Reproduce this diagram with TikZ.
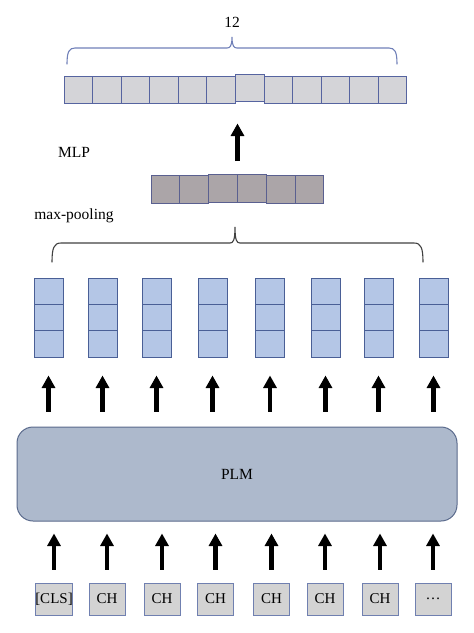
\documentclass[tikz,border=0pt]{standalone}
\usepackage{fontspec}
\setmainfont{Liberation Serif}
\usetikzlibrary{arrows.meta}
\definecolor{topfill}{HTML}{D4D4D8}
\definecolor{topdraw}{HTML}{5664A0}
\definecolor{midfill}{HTML}{ABA5A8}
\definecolor{middraw}{HTML}{5A6090}
\definecolor{colfill}{HTML}{B4C6E6}
\definecolor{coldraw}{HTML}{4A5F96}
\definecolor{plmfill}{HTML}{ADB9CC}
\definecolor{plmdraw}{HTML}{5A6A8C}
\definecolor{tokfill}{HTML}{D3D3D3}
\definecolor{tokdraw}{HTML}{7080B0}
\definecolor{bracetop}{HTML}{7080B8}
\definecolor{bracemid}{HTML}{404040}
\tikzset{
  topcell/.style={draw=topdraw, fill=topfill, line width=1pt, minimum width=28.58pt, minimum height=27pt, inner sep=0pt},
  midcell/.style={draw=middraw, fill=midfill, line width=1pt, minimum width=28.83pt, minimum height=28pt, inner sep=0pt},
  colcell/.style={draw=coldraw, fill=colfill, line width=1pt, minimum width=29pt, minimum height=26.33pt, inner sep=0pt},
  tokbox/.style={draw=tokdraw, fill=tokfill, line width=1pt, minimum width=36pt, minimum height=32pt, inner sep=0pt, font=\fontsize{15}{17}\selectfont},
  plmbox/.style={draw=plmdraw, fill=plmfill, line width=1pt, rounded corners=16pt, minimum width=440pt, minimum height=94pt, inner sep=0pt, font=\fontsize{15.5}{17}\selectfont},
  lbl/.style={font=\fontsize{15.5}{17}\selectfont, inner sep=0pt},
  bigarrow/.style={line width=4.6pt, -{Triangle[width=13pt,length=12.5pt]}},
  bracepath/.style={line width=1.1pt, line cap=round}
}
\begin{document}
\begin{tikzpicture}[x=1pt,y=-1pt]
\useasboundingbox (0,0) rectangle (474,633);
% top row of 12
\foreach \i in {0,...,11}{
  \pgfmathsetmacro{\cx}{64+28.58*(\i+0.5)}
  \ifnum\i=6
    \node[topcell] (t\i) at (\cx,88) {};
  \else
    \node[topcell] (t\i) at (\cx,89.5) {};
  \fi
}
% middle row of 6
\foreach \i in {0,...,5}{
  \pgfmathsetmacro{\cx}{151+28.83*(\i+0.5)}
  \ifnum\i=2
    \node[midcell] (m\i) at (\cx,188.5) {};
  \else\ifnum\i=3
    \node[midcell] (m\i) at (\cx,188.5) {};
  \else
    \node[midcell] (m\i) at (\cx,189.5) {};
  \fi\fi
}
\coordinate (mc) at (237.5,189);
% columns
\foreach \x [count=\k] in {48.5,102.5,156.5,212.5,270,325.5,378.5,433.5}{
  \node[colcell] (c\k a) at (\x,291.17) {};
  \node[colcell] (c\k b) at (\x,317.5) {};
  \node[colcell] (c\k c) at (\x,343.83) {};
}
% PLM
\node[plmbox] (plm) at (237,474) {PLM};
% tokens
\foreach \x/\t [count=\k] in {54/[CLS],107/CH,162/CH,215.5/CH,271.5/CH,325/CH,380/CH,433/\dots}{
  \node[tokbox] (tok\k) at (\x,599) {\t};
}
% arrows tokens -> PLM
\foreach \k in {1,...,8}{
  \draw[bigarrow, shorten <=13pt, shorten >=12pt] (tok\k.north) -- (tok\k.north |- plm.south);
}
% arrows PLM -> columns
\foreach \k in {1,...,8}{
  \draw[bigarrow, shorten <=15pt, shorten >=18pt] (c\k c.south |- plm.north) -- (c\k c.south);
}
% MLP arrow
\draw[bigarrow, shorten <=14pt, shorten >=20pt] (mc |- m0.north) -- (mc |- t0.south);
% labels
\node[lbl] (n12) at (232,22) {12};
\node[lbl] (mlp) at (74,152) {MLP};
\node[lbl] (maxp) at (74,216) {max-pooling};
% top brace
\draw[bracepath, draw=bracetop] (67,64) .. controls (67,52) and (69,48) .. (75,48) -- (227,48)
  .. controls (230,48) and (232,46) .. (232,37) .. controls (232,46) and (234,48) .. (237,48)
  -- (389,48) .. controls (395,48) and (397,52) .. (397,64);
% second brace
\draw[bracepath, draw=bracemid] (52,262) .. controls (52,248) and (54,243) .. (61,243) -- (230,243)
  .. controls (233,243) and (235,241) .. (235,227) .. controls (235,241) and (237,243) .. (240,243)
  -- (414,243) .. controls (421,243) and (423,248) .. (423,262);
\end{tikzpicture}
\end{document}
